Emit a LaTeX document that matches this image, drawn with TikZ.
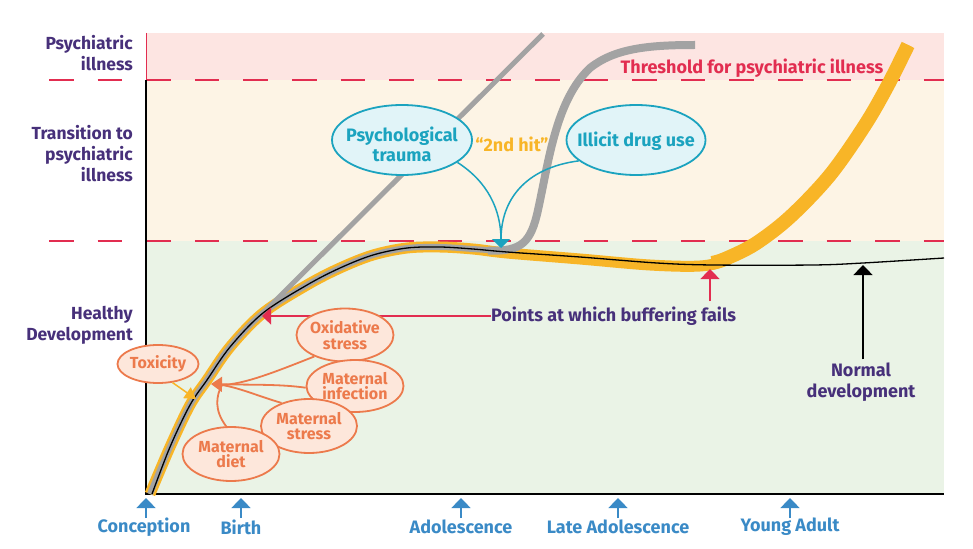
\documentclass[tikz,border=0pt]{standalone}
\usepackage{fontspec}
\setmainfont{Fira Sans}
\usetikzlibrary{arrows.meta,shapes.geometric}
\definecolor{pinkbg}{HTML}{FDE5E2}
\definecolor{creambg}{HTML}{FDF4E5}
\definecolor{greenbg}{HTML}{EAF3E6}
\definecolor{thred}{HTML}{E22D50}
\definecolor{purp}{HTML}{47307A}
\definecolor{bluel}{HTML}{3A8AC6}
\definecolor{tealc}{HTML}{1BA3BF}
\definecolor{tealfill}{HTML}{E1F4F8}
\definecolor{orng}{HTML}{EC7A4C}
\definecolor{orfill}{HTML}{FDE7DB}
\definecolor{yel}{HTML}{F8B527}
\definecolor{grayc}{HTML}{A3A3A3}
\begin{document}
\begin{tikzpicture}[x=1pt,y=-1pt,
  side/.style={font=\bfseries\fontsize{17.5}{21}\selectfont, text=purp, align=right, inner sep=0pt, anchor=east},
  tick/.style={font=\bfseries\fontsize{18}{21}\selectfont, text=bluel, inner sep=0pt},
  tickarr/.style={draw=bluel, line width=1.3pt, -{Triangle[width=19pt,length=10pt]}},
  tealell/.style={ellipse, draw=tealc, line width=1.8pt, fill=tealfill, inner sep=0pt},
  tealtxt/.style={font=\bfseries\fontsize{18}{20}\selectfont, text=tealc, align=center, inner sep=0pt},
  orell/.style={ellipse, draw=orng, line width=1.8pt, fill=orfill, inner sep=0pt},
  ortxt/.style={font=\bfseries\fontsize{16}{15.5}\selectfont, text=orng, align=center, inner sep=0pt},
  dashred/.style={draw=thred, line width=2.5pt, dash pattern=on 24.6pt off 24pt},
  plain/.style={font=\bfseries\fontsize{18}{21}\selectfont, inner sep=0pt},
]
\useasboundingbox (0,0) rectangle (973,548);
% bands
\fill[pinkbg] (146,33) rectangle (944,80);
\fill[creambg] (146,80) rectangle (944,241);
\fill[greenbg] (146,241) rectangle (944,494);
\draw[thred, line width=1pt] (146,33) -- (146,80);
\draw[dashred] (49,80) -- (944,80);
\draw[dashred] (49,241) -- (944,241);
\draw[black, line width=1.5pt] (146,80) -- (146,494) -- (944,494);

% side labels
\node[side] (lpsy) at (133,53) {Psychiatric\\illness};
\node[side] (ltra) at (133,154) {Transition to\\psychiatric\\illness};
\node[side] (lhea) at (133,325) {Healthy\\Development};
\node[plain, text=thred] (thr) at (752,68) {Threshold for psychiatric illness};

% orange trajectory
\draw[yel, line width=11pt] plot[smooth, tension=0.55] coordinates {(150,494) (170,447) (190,405) (207,380) (230,347) (263,313) (307,285) (340,268) (373,255) (407,248) (440,247) (473,249) (507,253) (580,259) (650,265) (700,266) (725,260) (755,244) (790,217) (830,175) (865,125) (888,85) (908,45)};
\draw[yel, line width=14pt] plot[smooth, tension=0.55] coordinates {(712,263) (725,259) (755,244) (790,217) (830,175) (865,125) (888,85) (908,45)};
% gray trajectories
\draw[grayc, line width=6pt] plot[smooth, tension=0.55] coordinates {(150,494) (170,447) (190,405) (207,380) (230,347) (263,313) (307,285) (340,268) (373,255) (407,248) (440,247) (473,249) (500,251)};
\draw[grayc, line width=5pt] (263,313) -- (543,34);
\draw[grayc, line width=8pt] (488,250.5) .. controls (522,252) and (531,242) .. (538,210) .. controls (549,160) and (556,100) .. (590,68) .. controls (615,48) and (650,45) .. (695,45);
% black normal development
\draw[black, line width=1.3pt] plot[smooth, tension=0.55] coordinates {(152,494) (170,447) (190,405) (207,380) (230,347) (263,313) (307,285) (340,268) (373,255) (407,248) (440,247) (473,249) (507,252) (580,257) (657,263) (713,265) (813,265) (863,263) (944,258)};

% teal ellipses
\node[tealell, minimum width=140pt, minimum height=70pt, label={[tealtxt, yshift=-4pt]center:Psychological\\trauma}] (trauma) at (402,140) {};
\node[tealell, minimum width=139pt, minimum height=70pt, label={[tealtxt, yshift=-1.5pt]center:Illicit drug use}] (drug) at (636,140) {};
\node[plain, text=yel] (hit) at (512,144) {“2nd hit”};
\coordinate (hittip) at (501,248);
\draw[tealc, line width=1.5pt] (trauma.-22) .. controls (488,182) and (501,210) .. (501,240);
\draw[tealc, line width=1.5pt, -{Triangle[width=18pt,length=9pt]}] (drug.200) .. controls (525,168) and (501,200) .. (hittip);

% buffering fails
\node[plain, text=purp, anchor=west] (buf) at (491,316) {Points at which buffering fails};
\coordinate (bt1) at (262,316);
\draw[thred, line width=1.1pt, -{Triangle[width=17pt,length=9pt]}] (buf.west) -- (bt1);
\coordinate (bt2) at (710,269);
\coordinate (bs2) at (710,301);
\draw[thred, line width=1.1pt, -{Triangle[width=19pt,length=10pt]}] (bs2) -- (bt2);

% normal development
\node[plain, text=purp, align=center, font=\bfseries\fontsize{18}{21}\selectfont] (norm) at (861,382) {Normal\\development};
\coordinate (nt) at (863,265);
\draw[black, line width=1.3pt, -{Triangle[width=19pt,length=10pt]}] (norm.north -| nt) ++(0,-3) coordinate (ns) -- (nt);

% orange ellipses
\node[orell, minimum width=81pt, minimum height=38pt, label={[ortxt]center:Toxicity}] (tox) at (158,364) {};
\node[orell, minimum width=97pt, minimum height=53pt, label={[ortxt]center:Oxidative\\stress}] (oxid) at (345,335) {};
\node[orell, minimum width=97pt, minimum height=52pt, label={[ortxt]center:Maternal\\infection}] (infec) at (355,386) {};
\node[orell, minimum width=96pt, minimum height=54pt, label={[ortxt]center:Maternal\\stress}] (mstress) at (309,426) {};
\node[orell, minimum width=97pt, minimum height=54pt, label={[ortxt]center:Maternal\\diet}] (diet) at (231,454) {};
\coordinate (ortip) at (211,384);
\coordinate (orbase) at (222,385);
\draw[orng, line width=1.8pt] (oxid.215) .. controls (275,372) and (245,384) .. (orbase);
\draw[orng, line width=1.8pt] (mstress.140) .. controls (258,396) and (240,388) .. (orbase);
\draw[orng, line width=1.8pt] (diet.100) .. controls (214,410) and (216,396) .. (orbase);
\draw[orng, line width=1.8pt, -{Triangle[width=15pt,length=11pt]}] (infec.182) .. controls (280,384) and (250,385) .. (ortip);
\coordinate (yt) at (196,399);
\draw[yel, line width=1.5pt, -{Triangle[width=13pt,length=11pt]}] (tox.-52) -- (yt);

% timeline
\node[tick] (conc) at (144,527) {Conception};
\node[tick] (birth) at (241,527) {Birth};
\node[tick] (adol) at (461,527) {Adolescence};
\node[tick] (ladol) at (618,527) {Late Adolescence};
\node[tick] (yad) at (790,527) {Young Adult};
\foreach \x/\n in {146/a,241/b,461/c,618/d,790/e}{
  \coordinate (tt\n) at (\x,498);
  \coordinate (ts\n) at (\x,518);
  \draw[tickarr] (ts\n) -- (tt\n);
}
\end{tikzpicture}
\end{document}
